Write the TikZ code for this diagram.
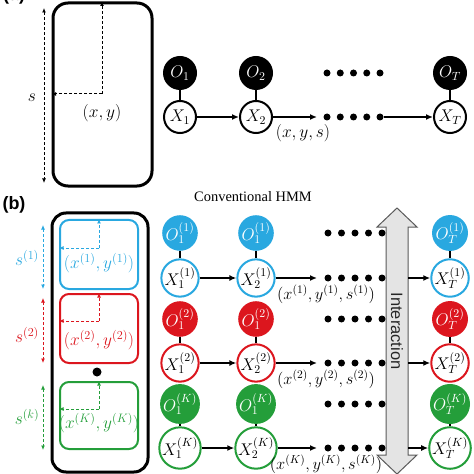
\RequirePackage{fix-cm}
\documentclass[tikz,border=0pt]{standalone}
\usepackage{fontspec}
\usetikzlibrary{arrows.meta}
\newfontfamily\serifT{Liberation Serif}
\newfontfamily\sansA{Liberation Sans}
\definecolor{cblue}{RGB}{41,168,224}
\definecolor{cred}{RGB}{220,22,30}
\definecolor{cgreen}{RGB}{36,158,58}
\definecolor{ishaft}{RGB}{228,228,228}
\definecolor{iline}{RGB}{90,90,90}
\newcommand{\nodefs}{\fontsize{17}{19}\selectfont}
\newcommand{\labfs}{\fontsize{16.5}{19}\selectfont}
\newcommand{\boxfs}{\fontsize{17.5}{20}\selectfont}
\begin{document}
\begin{tikzpicture}[x=1bp,y=-1bp,
  onode/.style={circle,minimum size=34bp,inner sep=0pt,fill=#1,text=white,font=\nodefs},
  xnode/.style={circle,minimum size=32bp,inner sep=0pt,draw=#1,line width=2bp,fill=white,text=black,font=\nodefs},
  link/.style={line width=1.6bp,draw=black},
  flow/.style={line width=1.5bp,-{Latex[length=7bp,width=6bp]}},
  dimarrow/.style={line width=1bp,dash pattern=on 3bp off 2bp,{Latex[length=4.5bp,width=4bp]}-{Latex[length=4.5bp,width=4bp]}},
  posarrow/.style={line width=1bp,dash pattern=on 3bp off 2bp,-{Latex[length=4.5bp,width=4bp]}},
  hdot/.style={circle,fill=black,minimum size=7bp,inner sep=0pt},
  frame/.style={draw,rectangle,line width=3bp,rounded corners=14bp,inner sep=0pt},
  cbox/.style={draw=#1,rectangle,line width=2bp,rounded corners=9bp,inner sep=0pt,minimum width=78bp,minimum height=69bp},
  lbl/.style={font=\labfs,inner sep=0pt},
  blbl/.style={font=\boxfs,inner sep=0pt},
  plabel/.style={font=\sansA\bfseries\fontsize{18}{20}\selectfont,inner sep=0pt}
]
\useasboundingbox (0,0) rectangle (474,474);

% ---------- panel (a) ----------
\node[plabel,anchor=base west] (alab) at (3,1) {(a)};
\node[frame,minimum width=99bp,minimum height=183bp,rounded corners=15bp] (boxa) at (102.5,94.5) {};
\coordinate (pa) at (102,94);
\draw[posarrow] (pa) -- (pa |- boxa.north);
\draw[posarrow] (pa) -- (pa -| boxa.west);
\coordinate (sa1) at (44,8);
\coordinate (sa2) at (44,183);
\draw[dimarrow] (sa1) -- (sa2);
\node[blbl] (sl) at (32,98) {$s$};
\node[blbl] (xyl) at (102,113) {$(x,y)$};

\node[onode=black] (aO1) at (180,73) {$O_1$};
\node[onode=black] (aO2) at (256,73) {$O_2$};
\node[onode=black] (aOT) at (450,73) {$O_T$};
\node[xnode=black] (aX1) at (180,117) {$X_1$};
\node[xnode=black] (aX2) at (256,117) {$X_2$};
\node[xnode=black] (aXT) at (450,117) {$X_T$};
\foreach \c in {1,2,T} \draw[link] (aO\c) -- (aX\c);
\foreach \i in {0,...,4} {
  \node[hdot] (adO\i) at (327+13.25*\i,73) {};
  \node[hdot] (adX\i) at (327+13.25*\i,117) {};
}
\draw[flow] (aX1) -- (aX2);
\coordinate (aend) at (317,117);
\draw[flow] (aX2) -- (aend);
\draw[flow] (adX4) -- (aXT);
\node[blbl] (axys) at (303,133) {$(x,y,s)$};
\node[font=\serifT\fontsize{14.5}{16}\selectfont,inner sep=0pt] (conv) at (253,197) {Conventional HMM};

% ---------- panel (b) ----------
\node[plabel] (blab) at (14,205) {(b)};
\node[frame,minimum width=96bp,minimum height=259bp] (boxb) at (100,342.5) {};
\node[cbox=cblue] (bb1) at (99,254.5) {};
\node[cbox=cred] (bb2) at (99,328.5) {};
\node[cbox=cgreen,minimum height=67bp] (bb3) at (99,415.5) {};
\node[circle,fill=black,minimum size=9bp,inner sep=0pt] (bdot) at (97,372) {};

\foreach \k/\col/\py/\ly/\sa/\sb/\sy/\bs/\ss in {1/cblue/248/263/225/289/258/1/1, 2/cred/321/340/298/363/335/2/2, 3/cgreen/409/423/385/450/417/K/k}
{
  \coordinate (bp\k) at (99,\py);
  \draw[posarrow,draw=\col] (bp\k) -- (bp\k |- bb\k.north);
  \draw[posarrow,draw=\col] (bp\k) -- (bp\k -| bb\k.west);
  \node[blbl,text=\col] (bxy\k) at (99,\ly) {$(x^{(\bs)},y^{(\bs)})$};
  \coordinate (bsa\k) at (43,\sa);
  \coordinate (bsb\k) at (43,\sb);
  \draw[dimarrow,draw=\col] (bsa\k) -- (bsb\k);
  \node[blbl,text=\col] (bs\k) at (27,\sy) {$s^{(\ss)}$};
}

% interaction arrow
\draw[fill=ishaft,draw=iline,line width=1bp]
  (397,208) -- (417,227) -- (408,227) -- (408,455) -- (417,455) -- (397,474)
  -- (377,455) -- (386,455) -- (386,227) -- (377,227) -- cycle;
\node[rotate=-90,font=\sansA\fontsize{16.5}{18}\selectfont,text=black!85,inner sep=0pt] (inter) at (397,331) {Interaction};

\foreach \k/\col/\oy/\xy/\bs in {1/cblue/233/278/1, 2/cred/319/363/2, 3/cgreen/404/448/K}
{
  \node[onode=\col] (bOa\k) at (180,\oy) {$O_1^{(\bs)}$};
  \node[onode=\col] (bOb\k) at (256,\oy) {$O_1^{(\bs)}$};
  \node[onode=\col] (bOT\k) at (450,\oy) {$O_T^{(\bs)}$};
  \node[xnode=\col] (bXa\k) at (180,\xy) {$X_1^{(\bs)}$};
  \node[xnode=\col] (bXb\k) at (256,\xy) {$X_2^{(\bs)}$};
  \node[xnode=\col] (bXT\k) at (450,\xy) {$X_T^{(\bs)}$};
  \draw[link] (bOa\k) -- (bXa\k);
  \draw[link] (bOb\k) -- (bXb\k);
  \draw[link] (bOT\k) -- (bXT\k);
  \foreach \i in {0,...,4} {
    \node[hdot] (bdO\k\i) at (328+13.5*\i,\oy) {};
    \node[hdot] (bdX\k\i) at (328+13.5*\i,\xy) {};
  }
  \draw[flow] (bXa\k) -- (bXb\k);
  \coordinate (be\k) at (317,\xy);
  \draw[flow] (bXb\k) -- (be\k);
  \coordinate (bi\k) at (408,\xy);
  \draw[flow] (bi\k) -- (bXT\k);
  \node[lbl] (bl\k) at (326,\xy+16) {$(x^{(\bs)},y^{(\bs)},s^{(\bs)})$};
}
\end{tikzpicture}
\end{document}
